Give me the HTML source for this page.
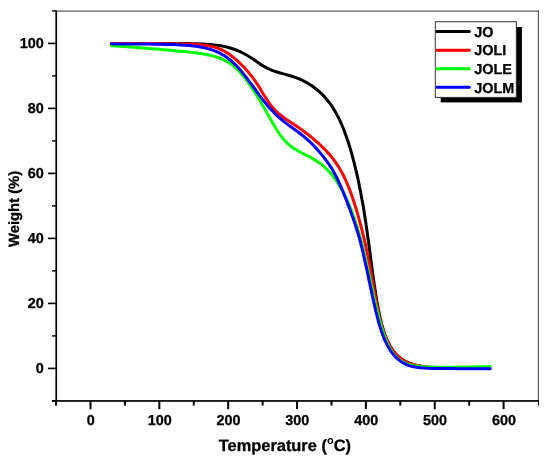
<!DOCTYPE html>
<html><head><meta charset="utf-8"><title>TGA curves</title>
<style>
html,body{margin:0;padding:0;background:#fff;}
svg{display:block;}
text{font-family:"Liberation Sans",Arial,sans-serif;font-weight:bold;fill:#000;text-rendering:geometricPrecision;stroke:#000;stroke-width:0.3px;stroke-linejoin:round;}
</style></head><body>
<svg width="550" height="461" viewBox="0 0 550 461">
<rect x="0" y="0" width="550" height="461" fill="#ffffff"/>

<rect x="57" y="10.4" width="482" height="1.5" fill="#7c7c7c"/>
<rect x="537.8" y="10.4" width="1.2" height="391.4" fill="#5c5c5c"/>
<rect x="55.4" y="10.3" width="1.7" height="391.5" fill="#000"/>
<rect x="52" y="400.1" width="487" height="1.7" fill="#000"/>
<rect x="52" y="400.20" width="4" height="1.4" fill="#000"/>
<rect x="48" y="367.60" width="8" height="1.6" fill="#000"/>
<text x="43.8" y="373.00" font-size="14.4" text-anchor="end">0</text>
<rect x="52" y="335.20" width="4" height="1.4" fill="#000"/>
<rect x="48" y="302.60" width="8" height="1.6" fill="#000"/>
<text x="43.8" y="308.00" font-size="14.4" text-anchor="end">20</text>
<rect x="52" y="270.20" width="4" height="1.4" fill="#000"/>
<rect x="48" y="237.60" width="8" height="1.6" fill="#000"/>
<text x="43.8" y="243.00" font-size="14.4" text-anchor="end">40</text>
<rect x="52" y="205.20" width="4" height="1.4" fill="#000"/>
<rect x="48" y="172.60" width="8" height="1.6" fill="#000"/>
<text x="43.8" y="178.00" font-size="14.4" text-anchor="end">60</text>
<rect x="52" y="140.20" width="4" height="1.4" fill="#000"/>
<rect x="48" y="107.60" width="8" height="1.6" fill="#000"/>
<text x="43.8" y="113.00" font-size="14.4" text-anchor="end">80</text>
<rect x="52" y="75.20" width="4" height="1.4" fill="#000"/>
<rect x="48" y="42.60" width="8" height="1.6" fill="#000"/>
<text x="43.8" y="48.00" font-size="14.4" text-anchor="end">100</text>
<rect x="52" y="10.20" width="4" height="1.4" fill="#000"/>
<rect x="55.08" y="401" width="2" height="4.6" fill="#000"/>
<rect x="89.50" y="401" width="2" height="8.2" fill="#000"/>
<text x="90.80" y="425.2" font-size="14.4" text-anchor="middle">0</text>
<rect x="123.92" y="401" width="2" height="4.6" fill="#000"/>
<rect x="158.35" y="401" width="2" height="8.2" fill="#000"/>
<text x="159.65" y="425.2" font-size="14.4" text-anchor="middle">100</text>
<rect x="192.78" y="401" width="2" height="4.6" fill="#000"/>
<rect x="227.20" y="401" width="2" height="8.2" fill="#000"/>
<text x="228.50" y="425.2" font-size="14.4" text-anchor="middle">200</text>
<rect x="261.62" y="401" width="2" height="4.6" fill="#000"/>
<rect x="296.05" y="401" width="2" height="8.2" fill="#000"/>
<text x="297.35" y="425.2" font-size="14.4" text-anchor="middle">300</text>
<rect x="330.48" y="401" width="2" height="4.6" fill="#000"/>
<rect x="364.90" y="401" width="2" height="8.2" fill="#000"/>
<text x="366.20" y="425.2" font-size="14.4" text-anchor="middle">400</text>
<rect x="399.32" y="401" width="2" height="4.6" fill="#000"/>
<rect x="433.75" y="401" width="2" height="8.2" fill="#000"/>
<text x="435.05" y="425.2" font-size="14.4" text-anchor="middle">500</text>
<rect x="468.18" y="401" width="2" height="4.6" fill="#000"/>
<rect x="502.60" y="401" width="2" height="8.2" fill="#000"/>
<text x="503.90" y="425.2" font-size="14.4" text-anchor="middle">600</text>
<rect x="538.00" y="401" width="1" height="4.6" fill="#000"/>
<text x="218.8" y="451.0" font-size="16.4">Temperature (<tspan font-size="11" dy="-7.3" style="stroke-width:0">o</tspan><tspan dy="7.3">C)</tspan></text>
<text transform="translate(19.3,247.0) rotate(-90)" font-size="14.8">Weight (%)</text>
<path d="M111.6,43.4 L115.9,43.4 L120.1,43.4 L124.4,43.4 L128.7,43.4 L133.0,43.4 L137.2,43.4 L141.5,43.4 L145.8,43.4 L150.1,43.4 L154.3,43.4 L158.6,43.5 L162.9,43.5 L167.2,43.5 L171.4,43.5 L175.7,43.5 L180.0,43.5 L184.3,43.6 L188.5,43.6 L192.8,43.7 L197.1,43.8 L201.4,44.0 L205.6,44.2 L209.9,44.5 L214.1,44.9 L218.4,45.4 L222.6,46.1 L226.8,47.0 L230.9,48.2 L234.9,49.5 L238.9,51.1 L242.8,53.0 L246.5,55.0 L250.2,57.2 L253.8,59.5 L257.3,62.0 L260.8,64.4 L264.4,66.7 L268.2,68.7 L272.1,70.4 L276.2,71.8 L280.3,73.0 L284.4,74.1 L288.5,75.3 L292.6,76.5 L296.6,77.9 L300.6,79.5 L304.4,81.4 L308.2,83.5 L311.8,85.8 L315.2,88.3 L318.5,91.0 L321.7,93.9 L324.6,96.9 L327.4,100.2 L330.1,103.6 L332.5,107.1 L334.7,110.7 L336.8,114.4 L338.8,118.2 L340.6,122.1 L342.3,126.0 L343.9,130.0 L345.4,134.0 L346.8,138.0 L348.2,142.1 L349.5,146.1 L350.7,150.2 L351.9,154.4 L353.0,158.5 L354.1,162.6 L355.1,166.8 L356.1,170.9 L357.1,175.1 L358.0,179.3 L358.9,183.4 L359.7,187.6 L360.6,191.8 L361.3,196.0 L362.1,200.2 L362.9,204.4 L363.6,208.6 L364.3,212.9 L364.9,217.1 L365.6,221.3 L366.2,225.5 L366.8,229.8 L367.4,234.0 L368.0,238.2 L368.6,242.5 L369.2,246.7 L369.7,250.9 L370.3,255.2 L370.8,259.4 L371.4,263.6 L372.0,267.9 L372.5,272.1 L373.1,276.4 L373.7,280.6 L374.3,284.8 L375.0,289.0 L375.6,293.3 L376.3,297.5 L377.0,301.7 L377.7,305.9 L378.5,310.1 L379.4,314.3 L380.3,318.5 L381.3,322.6 L382.4,326.8 L383.7,330.8 L385.0,334.9 L386.6,338.9 L388.4,342.8 L390.4,346.5 L392.7,350.1 L395.4,353.5 L398.4,356.5 L401.7,359.1 L405.4,361.3 L409.3,363.1 L413.3,364.5 L417.5,365.5 L421.7,366.2 L425.9,366.8 L430.2,367.2 L434.4,367.5 L438.7,367.7 L443.0,367.8 L447.3,367.9 L451.5,368.0 L455.8,368.1 L460.1,368.1 L464.4,368.2 L468.6,368.2 L472.9,368.2 L477.2,368.2 L481.5,368.2 L485.7,368.2 L490.0,368.2" fill="none" stroke="#000000" stroke-width="3" stroke-linejoin="round" stroke-linecap="round"/>
<path d="M111.6,43.6 L115.7,43.6 L119.8,43.6 L124.0,43.6 L128.1,43.6 L132.2,43.6 L136.3,43.6 L140.5,43.6 L144.6,43.6 L148.7,43.6 L152.8,43.6 L157.0,43.6 L161.1,43.7 L165.2,43.7 L169.3,43.7 L173.5,43.7 L177.6,43.8 L181.7,43.9 L185.8,43.9 L189.9,44.1 L194.1,44.3 L198.2,44.5 L202.3,44.9 L206.4,45.4 L210.4,46.2 L214.4,47.1 L218.4,48.4 L222.1,50.0 L225.8,52.0 L229.2,54.2 L232.5,56.7 L235.7,59.4 L238.8,62.1 L241.7,65.0 L244.6,67.9 L247.4,71.0 L250.0,74.1 L252.6,77.4 L255.0,80.7 L257.3,84.2 L259.5,87.6 L261.6,91.2 L263.8,94.7 L266.0,98.2 L268.2,101.6 L270.6,105.0 L273.2,108.2 L276.0,111.2 L279.1,114.0 L282.3,116.5 L285.7,118.9 L289.1,121.3 L292.5,123.5 L295.9,125.8 L299.3,128.1 L302.7,130.5 L306.0,133.0 L309.3,135.5 L312.5,138.1 L315.6,140.8 L318.7,143.5 L321.7,146.3 L324.7,149.2 L327.5,152.2 L330.2,155.3 L332.8,158.5 L335.3,161.9 L337.6,165.3 L339.7,168.8 L341.8,172.4 L343.7,176.0 L345.4,179.7 L347.1,183.5 L348.7,187.3 L350.2,191.2 L351.6,195.0 L352.9,198.9 L354.2,202.9 L355.5,206.8 L356.7,210.7 L357.8,214.7 L358.9,218.7 L360.0,222.6 L361.1,226.6 L362.1,230.6 L363.1,234.6 L364.0,238.6 L365.0,242.7 L365.9,246.7 L366.7,250.7 L367.6,254.7 L368.4,258.8 L369.2,262.8 L370.0,266.9 L370.7,270.9 L371.5,275.0 L372.2,279.1 L372.9,283.1 L373.6,287.2 L374.3,291.2 L375.1,295.3 L375.8,299.3 L376.6,303.4 L377.4,307.4 L378.2,311.5 L379.1,315.5 L380.1,319.5 L381.1,323.5 L382.2,327.5 L383.5,331.4 L384.9,335.3 L386.4,339.1 L388.2,342.8 L390.1,346.5 L392.4,349.9 L394.9,353.2 L397.8,356.1 L400.9,358.8 L404.4,361.0 L408.1,362.8 L412.0,364.3 L415.9,365.3 L420.0,366.1 L424.1,366.7 L428.2,367.2 L432.3,367.5 L436.4,367.7 L440.5,367.8 L444.6,368.0 L448.8,368.1 L452.9,368.1 L457.0,368.2 L461.1,368.2 L465.3,368.2 L469.4,368.2 L473.5,368.3 L477.6,368.3 L481.8,368.3 L485.9,368.3 L490.0,368.3" fill="none" stroke="#ff0000" stroke-width="3" stroke-linejoin="round" stroke-linecap="round"/>
<path d="M111.6,45.7 L115.7,45.9 L119.7,46.2 L123.8,46.5 L127.8,46.8 L131.9,47.1 L136.0,47.4 L140.0,47.7 L144.1,48.1 L148.1,48.4 L152.2,48.8 L156.2,49.1 L160.3,49.4 L164.4,49.8 L168.4,50.1 L172.5,50.5 L176.5,50.9 L180.6,51.2 L184.6,51.6 L188.7,52.0 L192.7,52.5 L196.8,53.0 L200.8,53.5 L204.8,54.2 L208.8,55.0 L212.8,55.9 L216.7,57.1 L220.5,58.5 L224.2,60.1 L227.8,62.1 L231.2,64.3 L234.4,66.8 L237.4,69.5 L240.3,72.4 L243.0,75.5 L245.5,78.7 L247.9,81.9 L250.3,85.3 L252.5,88.7 L254.7,92.1 L256.8,95.6 L258.9,99.1 L261.0,102.6 L263.0,106.1 L265.1,109.6 L267.1,113.1 L269.1,116.7 L271.1,120.2 L273.2,123.7 L275.2,127.2 L277.4,130.7 L279.6,134.1 L282.1,137.4 L284.7,140.5 L287.5,143.4 L290.6,146.1 L293.9,148.4 L297.4,150.5 L300.9,152.5 L304.6,154.3 L308.2,156.2 L311.8,158.1 L315.3,160.1 L318.7,162.4 L322.0,164.8 L325.0,167.5 L327.9,170.4 L330.7,173.4 L333.2,176.5 L335.6,179.8 L337.9,183.2 L340.0,186.7 L342.1,190.2 L344.0,193.8 L345.8,197.4 L347.5,201.1 L349.1,204.9 L350.7,208.6 L352.1,212.4 L353.5,216.2 L354.9,220.1 L356.1,224.0 L357.4,227.8 L358.5,231.7 L359.6,235.7 L360.7,239.6 L361.8,243.5 L362.8,247.5 L363.7,251.4 L364.7,255.4 L365.6,259.3 L366.5,263.3 L367.4,267.3 L368.3,271.2 L369.2,275.2 L370.1,279.2 L370.9,283.2 L371.8,287.2 L372.7,291.1 L373.5,295.1 L374.4,299.1 L375.3,303.1 L376.2,307.0 L377.2,311.0 L378.2,314.9 L379.2,318.9 L380.3,322.8 L381.4,326.7 L382.6,330.6 L383.9,334.4 L385.3,338.3 L386.8,342.0 L388.5,345.7 L390.5,349.3 L392.7,352.8 L395.2,355.9 L398.1,358.8 L401.4,361.2 L405.0,363.1 L408.8,364.5 L412.8,365.4 L416.8,366.1 L420.8,366.5 L424.9,366.8 L428.9,367.0 L433.0,367.1 L437.1,367.2 L441.2,367.2 L445.2,367.2 L449.3,367.2 L453.4,367.2 L457.4,367.1 L461.5,367.1 L465.6,367.0 L469.6,366.9 L473.7,366.9 L477.8,366.8 L481.9,366.7 L485.9,366.7 L490.0,366.6" fill="none" stroke="#00ff00" stroke-width="3" stroke-linejoin="round" stroke-linecap="round"/>
<path d="M111.6,43.8 L115.7,43.9 L119.8,43.9 L123.9,43.9 L128.0,43.9 L132.1,44.0 L136.2,44.0 L140.3,44.0 L144.4,44.1 L148.4,44.1 L152.5,44.2 L156.6,44.2 L160.7,44.3 L164.8,44.4 L168.9,44.5 L173.0,44.6 L177.1,44.8 L181.2,45.0 L185.3,45.3 L189.3,45.6 L193.4,46.0 L197.5,46.6 L201.5,47.2 L205.5,48.1 L209.5,49.1 L213.4,50.4 L217.2,51.9 L220.8,53.7 L224.4,55.8 L227.8,58.1 L231.0,60.7 L234.0,63.4 L236.9,66.3 L239.7,69.3 L242.3,72.4 L244.9,75.6 L247.4,78.8 L249.8,82.1 L252.3,85.4 L254.7,88.7 L257.1,92.1 L259.5,95.4 L262.0,98.6 L264.5,101.9 L267.1,105.0 L269.7,108.1 L272.5,111.1 L275.4,114.1 L278.4,116.9 L281.5,119.5 L284.6,122.1 L287.9,124.6 L291.2,127.0 L294.5,129.4 L297.8,131.8 L301.1,134.3 L304.3,136.9 L307.4,139.6 L310.4,142.3 L313.3,145.2 L316.1,148.2 L318.8,151.2 L321.5,154.4 L324.0,157.5 L326.5,160.8 L328.9,164.2 L331.1,167.6 L333.2,171.1 L335.2,174.7 L337.1,178.3 L338.8,182.0 L340.5,185.8 L342.1,189.5 L343.7,193.3 L345.2,197.1 L346.7,200.9 L348.1,204.7 L349.6,208.6 L351.0,212.4 L352.4,216.3 L353.7,220.1 L355.1,224.0 L356.3,227.9 L357.5,231.8 L358.7,235.7 L359.8,239.7 L360.8,243.6 L361.8,247.6 L362.8,251.6 L363.7,255.6 L364.6,259.6 L365.5,263.6 L366.4,267.6 L367.3,271.6 L368.1,275.6 L368.9,279.6 L369.8,283.6 L370.6,287.6 L371.5,291.6 L372.3,295.6 L373.2,299.6 L374.1,303.6 L375.0,307.6 L375.9,311.6 L376.9,315.5 L377.9,319.5 L379.0,323.5 L380.2,327.4 L381.4,331.3 L382.8,335.1 L384.3,339.0 L386.0,342.7 L387.8,346.3 L389.9,349.8 L392.3,353.2 L395.0,356.3 L397.9,359.1 L401.2,361.6 L404.7,363.7 L408.4,365.4 L412.3,366.6 L416.4,367.3 L420.4,367.8 L424.5,368.1 L428.6,368.3 L432.7,368.4 L436.8,368.5 L440.9,368.5 L445.0,368.6 L449.1,368.6 L453.2,368.6 L457.2,368.7 L461.3,368.7 L465.4,368.7 L469.5,368.7 L473.6,368.8 L477.7,368.8 L481.8,368.8 L485.9,368.8 L490.0,368.8" fill="none" stroke="#0000ff" stroke-width="3" stroke-linejoin="round" stroke-linecap="round"/>
<rect x="440.7" y="27" width="81.2" height="75.4" fill="#000"/>
<rect x="435.3" y="21.7" width="81" height="75.7" fill="#fff" stroke="#333" stroke-width="1"/>
<line x1="437" y1="31.60" x2="469.3" y2="31.60" stroke="#000000" stroke-width="3" stroke-linecap="round"/>
<text x="474.2" y="36.80" font-size="14.45">JO</text>
<line x1="437" y1="50.17" x2="469.3" y2="50.17" stroke="#ff0000" stroke-width="3" stroke-linecap="round"/>
<text x="474.2" y="55.37" font-size="14.45">JOLI</text>
<line x1="437" y1="68.74" x2="469.3" y2="68.74" stroke="#00ff00" stroke-width="3" stroke-linecap="round"/>
<text x="474.2" y="73.94" font-size="14.45">JOLE</text>
<line x1="437" y1="87.31" x2="469.3" y2="87.31" stroke="#0000ff" stroke-width="3" stroke-linecap="round"/>
<text x="474.2" y="92.51" font-size="14.45">JOLM</text>
</svg>
</body></html>
